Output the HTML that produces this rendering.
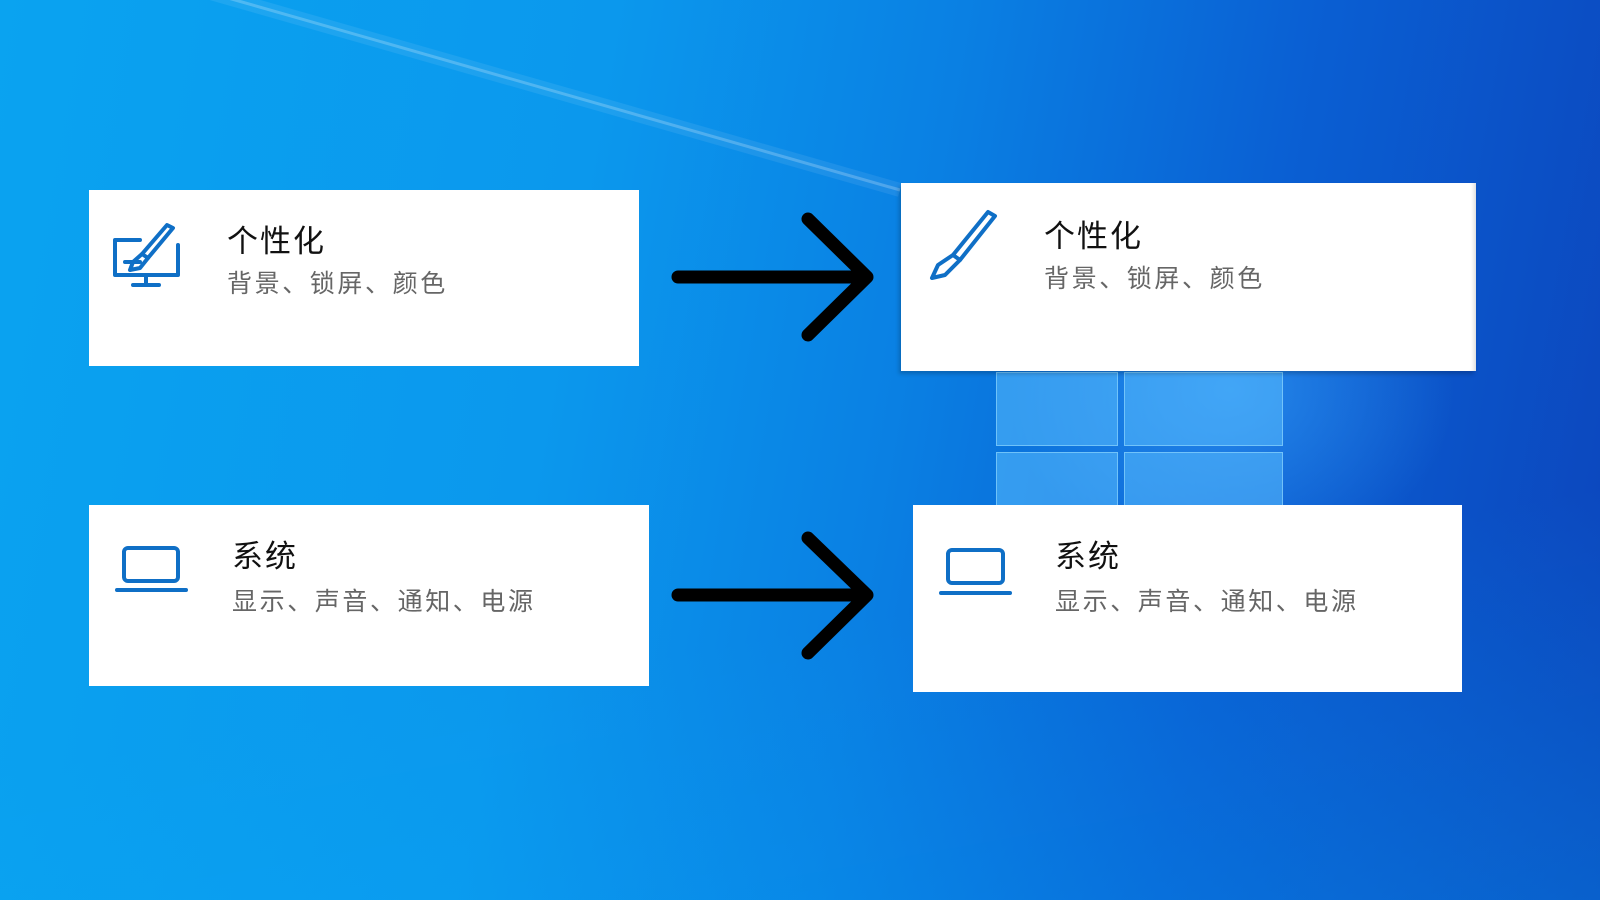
<!DOCTYPE html>
<html><head><meta charset="utf-8"><style>
html,body{margin:0;padding:0}
body{width:1600px;height:900px;position:relative;overflow:hidden;
background:
radial-gradient(ellipse 320px 260px at 1230px 390px, rgba(60,170,255,0.55), rgba(60,170,255,0) 70%),
linear-gradient(100deg,#0aa3f0 0%,#0b98ed 35%,#0a80e3 55%,#0a5fd3 75%,#0c44bb 100%);
font-family:"Liberation Sans","Noto Sans CJK SC",sans-serif}
.bottom{position:absolute;left:0;top:0;width:1600px;height:900px;
background:linear-gradient(170deg,rgba(0,0,0,0) 65%,rgba(0,180,255,0.25) 100%)}
.pane{position:absolute;background:rgba(90,190,255,0.55);border:1px solid rgba(150,220,255,0.6);box-sizing:border-box}
.card{position:absolute;background:#fff}
.t{position:absolute;font-size:31px;color:#111;white-space:nowrap;line-height:1;letter-spacing:2px}
.s{position:absolute;font-size:25px;color:#666;white-space:nowrap;line-height:1;letter-spacing:2.6px}
svg{position:absolute;left:0;top:0}
</style></head><body>
<div class="bottom"></div>
<svg width="1600" height="900">
 <line x1="200" y1="-10" x2="900" y2="190" stroke="rgba(255,255,255,0.08)" stroke-width="14"/>
 <line x1="200" y1="-10" x2="900" y2="190" stroke="rgba(255,255,255,0.22)" stroke-width="3"/>
</svg>
<div class="pane" style="left:996px;top:372px;width:122px;height:74px"></div>
<div class="pane" style="left:1124px;top:372px;width:159px;height:74px"></div>
<div class="pane" style="left:996px;top:452px;width:122px;height:60px"></div>
<div class="pane" style="left:1124px;top:452px;width:159px;height:60px"></div>

<div class="card" style="left:89px;top:190px;width:550px;height:176px"></div>
<div class="card" style="left:901px;top:183px;width:575px;height:188px;box-shadow:-2px 3px 4px rgba(0,0,0,0.2), inset -5px 0 4px -3px rgba(0,0,0,0.15)"></div>
<div class="card" style="left:89px;top:505px;width:560px;height:181px"></div>
<div class="card" style="left:913px;top:505px;width:549px;height:187px"></div>

<div class="t" style="left:227px;top:226px">个性化</div>
<div class="s" style="left:227px;top:272px">背景、锁屏、颜色</div>
<div class="t" style="left:1044px;top:221px">个性化</div>
<div class="s" style="left:1044px;top:267px">背景、锁屏、颜色</div>
<div class="t" style="left:232px;top:541px">系统</div>
<div class="s" style="left:232px;top:590px">显示、声音、通知、电源</div>
<div class="t" style="left:1055px;top:541px">系统</div>
<div class="s" style="left:1055px;top:590px">显示、声音、通知、电源</div>

<svg width="1600" height="900">
<g fill="none" stroke="#0f6fc6" stroke-width="4" stroke-linejoin="round" stroke-linecap="round">
 <path d="M140 240 H115 V275 H178 V245"/>
 <path d="M146 275 V284 M133 285 H159"/>
 <path d="M173 228 L148 258 L142 254 L167 225 Z"/>
 <path d="M142 254 L133 262 L130 270 L140 268 L148 258"/>
 <path d="M125 262 H140"/>
 <path d="M995 216 L960 260 L953 255 L988 212 Z"/>
 <path d="M953 255 L938 265 L932 278 L945 275 L960 260"/>
 <rect x="124" y="548" width="54" height="33" rx="4"/>
 <path d="M117 590 H186"/>
 <rect x="948" y="550" width="55" height="33" rx="4"/>
 <path d="M941 593 H1010"/>
</g>
<g fill="none" stroke="#000" stroke-width="13" stroke-linecap="round" stroke-linejoin="round">
 <path d="M678 277 H864 M808 219 L867 277 L808 335"/>
 <path d="M678 595 H864 M808 538 L867 595 L808 653"/>
</g>
</svg>
</body></html>
